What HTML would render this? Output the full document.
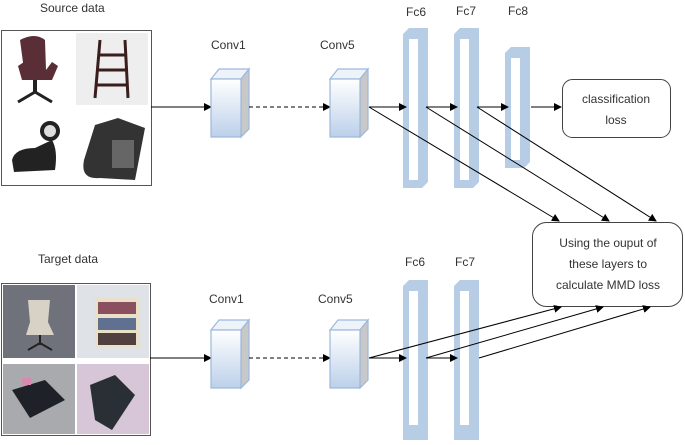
<!DOCTYPE html>
<html><head><style>
body{margin:0;background:#fff;}
svg text{font-family:"Liberation Sans",sans-serif;fill:#333;}
</style></head><body>
<svg width="685" height="440" viewBox="0 0 685 440" xmlns="http://www.w3.org/2000/svg">
<defs>
<linearGradient id="g" x1="0" y1="0" x2="0" y2="1"><stop offset="0" stop-color="#fff"/><stop offset="1" stop-color="#bcd0ea"/></linearGradient>
<marker id="a" markerWidth="8" markerHeight="8" refX="7" refY="4" orient="auto" markerUnits="userSpaceOnUse"><path d="M0,0 L8,4 L0,8z" fill="#000"/></marker>
<g id="cube">
<path d="M0,10 L8,0 L38,0 L30,10z" fill="#eef3fa" stroke="#9db8dc" stroke-width="1.2"/>
<path d="M30,10 L38,0 L38,60 L30,68z" fill="#c8c8c8" stroke="#9db8dc" stroke-width="1.2"/>
<rect x="0" y="10" width="30" height="58" fill="url(#g)" stroke="#9db8dc" stroke-width="1.2"/>
</g>
</defs>

<!-- Source images -->
<text x="40" y="12" font-size="12">Source data</text>
<rect x="1.5" y="30.5" width="150" height="155" fill="#fff" stroke="#555"/>
<g>
<path d="M20,40 Q35,32 45,40 L46,70 L52,62 L58,66 L52,80 L22,80 L18,66 L24,62 L24,70z" fill="#5a2e36"/>
<rect x="33" y="80" width="4" height="12" fill="#222"/><path d="M18,102 L35,92 L52,102" stroke="#222" stroke-width="3" fill="none"/>
<rect x="76" y="33" width="72" height="72" fill="#eee"/>
<path d="M100,40 L95,98 M125,40 L128,98 M98,55 L126,55 M97,70 L127,70 M96,85 L128,85" stroke="#3a1e1e" stroke-width="3"/>
<path d="M12,160 Q15,148 35,148 L52,140 Q58,150 55,170 L14,172z" fill="#222"/>
<circle cx="50" cy="131" r="8" fill="#ddd" stroke="#222" stroke-width="4"/>
<path d="M95,125 L118,118 L145,128 L135,180 L100,178 Q80,180 84,160z" fill="#333"/>
<rect x="112" y="140" width="22" height="28" fill="#666"/>
</g>

<!-- Target images -->
<text x="38" y="263" font-size="12">Target data</text>
<rect x="1.5" y="283.5" width="149" height="152" fill="#fff" stroke="#555"/>
<rect x="3" y="285" width="72" height="73" fill="#6f727b"/>
<path d="M28,300 L50,300 L48,322 L54,335 L26,335 L30,322z" fill="#d8d2c6"/>
<path d="M40,335 L40,345 M28,350 L40,343 L52,350" stroke="#222" stroke-width="2" fill="none"/>
<rect x="77" y="285" width="72" height="73" fill="#dfe3e8"/>
<rect x="95" y="298" width="45" height="50" fill="#e8e0c8"/><rect x="98" y="302" width="38" height="12" fill="#8a5060"/><rect x="98" y="318" width="38" height="12" fill="#607090"/><rect x="98" y="333" width="38" height="12" fill="#504040"/>
<rect x="3" y="364" width="72" height="70" fill="#a8aaae"/>
<path d="M12,390 L45,380 L65,400 L30,418z" fill="#1e2228"/><rect x="22" y="378" width="9" height="7" fill="#d68ab0"/>
<rect x="77" y="364" width="72" height="70" fill="#d6c6d8"/>
<path d="M90,385 L115,375 L135,395 L112,430 L95,420z" fill="#2a2e35"/>

<!-- top row -->
<line x1="151" y1="107" x2="211" y2="107" stroke="#000" marker-end="url(#a)"/>
<use href="#cube" x="211" y="69"/>
<text x="211" y="49" font-size="12">Conv1</text>
<line x1="249" y1="107" x2="330" y2="107" stroke="#000" stroke-dasharray="4,3" marker-end="url(#a)"/>
<use href="#cube" x="330" y="69"/>
<text x="320" y="49" font-size="12">Conv5</text>

<g fill="#b7cde6">
<path d="M403,34 L409,28 L428,28 L428,182 L422,188 L403,188z M409,39 L409,180 L418,180 L418,39z" fill-rule="evenodd"/>
<path d="M454,34 L460,28 L479,28 L479,182 L473,188 L454,188z M460,39 L460,180 L469,180 L469,39z" fill-rule="evenodd"/>
<path d="M505,53 L511,47 L530,47 L530,162 L524,168 L505,168z M511,58 L511,160 L520,160 L520,58z" fill-rule="evenodd"/>
</g>
<text x="406" y="16" font-size="12">Fc6</text>
<text x="456" y="15" font-size="12">Fc7</text>
<text x="508" y="15" font-size="12">Fc8</text>

<g stroke="#000" stroke-width="1" fill="none">
<line x1="369" y1="107" x2="406" y2="107" marker-end="url(#a)"/>
<line x1="426" y1="107" x2="457" y2="107" marker-end="url(#a)"/>
<line x1="477" y1="107" x2="508" y2="107" marker-end="url(#a)"/>
<line x1="531" y1="107" x2="561" y2="107" marker-end="url(#a)"/>
<line x1="369" y1="107" x2="559" y2="221" marker-end="url(#a)"/>
<line x1="426" y1="107" x2="609" y2="221" marker-end="url(#a)"/>
<line x1="477" y1="107" x2="656" y2="221" marker-end="url(#a)"/>
</g>

<rect x="562.5" y="79.5" width="108" height="58" rx="10" fill="#fff" stroke="#444"/>
<text x="616" y="103" font-size="12" text-anchor="middle">classification</text>
<text x="616" y="124" font-size="12" text-anchor="middle">loss</text>

<rect x="532.5" y="222.5" width="150" height="84" rx="14" fill="#fff" stroke="#444"/>
<text x="608" y="247" font-size="12" text-anchor="middle">Using the ouput of</text>
<text x="608" y="268" font-size="12" text-anchor="middle">these layers to</text>
<text x="608" y="289" font-size="12" text-anchor="middle">calculate MMD loss</text>

<!-- bottom row -->
<line x1="150" y1="358" x2="211" y2="358" stroke="#000" marker-end="url(#a)"/>
<use href="#cube" x="211" y="320"/>
<text x="209" y="303" font-size="12">Conv1</text>
<line x1="249" y1="358" x2="330" y2="358" stroke="#000" stroke-dasharray="4,3" marker-end="url(#a)"/>
<use href="#cube" x="330" y="320"/>
<text x="318" y="303" font-size="12">Conv5</text>

<g fill="#b7cde6">
<path d="M403,286 L409,280 L428,280 L428,440 L403,440z M409,291 L409,425 L418,425 L418,291z" fill-rule="evenodd"/>
<path d="M454,286 L460,280 L479,280 L479,440 L454,440z M460,291 L460,425 L469,425 L469,291z" fill-rule="evenodd"/>
</g>
<text x="405" y="266" font-size="12">Fc6</text>
<text x="455" y="266" font-size="12">Fc7</text>

<g stroke="#000" stroke-width="1" fill="none">
<line x1="369" y1="358" x2="406" y2="358" marker-end="url(#a)"/>
<line x1="426" y1="358" x2="457" y2="358" marker-end="url(#a)"/>
<line x1="369" y1="358" x2="561" y2="307" marker-end="url(#a)"/>
<line x1="426" y1="358" x2="603" y2="307" marker-end="url(#a)"/>
<line x1="479" y1="358" x2="650" y2="307" marker-end="url(#a)"/>
</g>
</svg>
</body></html>
